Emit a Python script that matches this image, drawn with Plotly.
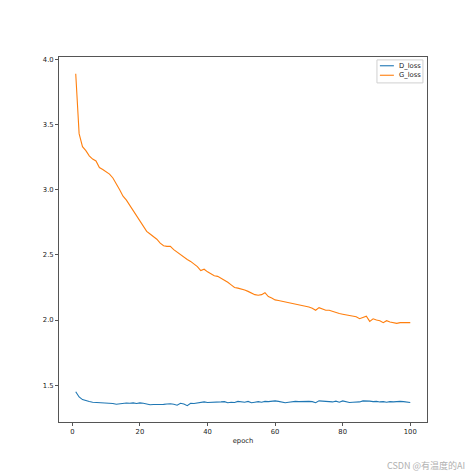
import plotly.graph_objects as go

epochs = list(range(1, 101))

d_loss = [1.45, 1.41, 1.39, 1.38, 1.375, 1.37, 1.368, 1.366, 1.365, 1.365,
          1.364, 1.36, 1.354, 1.358, 1.362, 1.364, 1.362, 1.365, 1.36, 1.365,
          1.362, 1.356, 1.35, 1.352, 1.351, 1.352, 1.353, 1.356, 1.358, 1.354,
          1.347, 1.362, 1.356, 1.343, 1.362, 1.36, 1.365, 1.368, 1.372, 1.368,
          1.368, 1.37, 1.37, 1.372, 1.374, 1.366, 1.37, 1.368, 1.376, 1.372,
          1.37, 1.376, 1.366, 1.37, 1.374, 1.37, 1.376, 1.374, 1.378, 1.38,
          1.376, 1.372, 1.366, 1.37, 1.374, 1.376, 1.374, 1.376, 1.375, 1.376,
          1.374, 1.366, 1.38, 1.378, 1.376, 1.378, 1.372, 1.378, 1.37, 1.38,
          1.372, 1.368, 1.37, 1.37, 1.372, 1.38, 1.38, 1.378, 1.374, 1.376,
          1.372, 1.374, 1.37, 1.374, 1.372, 1.376, 1.376, 1.374, 1.372, 1.367]

g_loss = [3.89, 3.43, 3.33, 3.30, 3.26, 3.235, 3.22, 3.17, 3.155, 3.14,
          3.12, 3.09, 3.05, 3.00, 2.95, 2.92, 2.88, 2.84, 2.80, 2.76,
          2.71, 2.68, 2.66, 2.64, 2.62, 2.59, 2.57, 2.565, 2.565, 2.54,
          2.52, 2.50, 2.485, 2.465, 2.45, 2.43, 2.41, 2.38, 2.39, 2.37,
          2.355, 2.34, 2.335, 2.32, 2.31, 2.29, 2.27, 2.25, 2.245, 2.24,
          2.23, 2.22, 2.205, 2.195, 2.19, 2.195, 2.21, 2.18, 2.17, 2.155,
          2.15, 2.145, 2.14, 2.13, 2.125, 2.12, 2.115, 2.11, 2.105, 2.10,
          2.09, 2.075, 2.095, 2.085, 2.075, 2.075, 2.065, 2.055, 2.05, 2.045,
          2.04, 2.04, 2.035, 2.025, 2.01, 2.02, 2.03, 1.99, 2.01, 2.00,
          1.995, 1.98, 1.995, 1.985, 1.98, 1.975, 1.98, 1.98, 1.98, 1.98]

series_names = ["D_loss", "G_loss"]
series_colors = ["#1f77b4", "#ff7f0e"]

x_ticks = [0, 20, 40, 60, 80, 100]
y_ticks = [1.5, 2.0, 2.5, 3.0, 3.5, 4.0]
y_tick_labels = ["1.5", "2.0", "2.5", "3.0", "3.5", "4.0"]

font_family = "DejaVu Sans"
fs = 6.8
txt_color = "#222222"

fig = go.Figure()
for name, ys, col in zip(series_names, [d_loss, g_loss], series_colors):
    fig.add_trace(go.Scatter(x=epochs, y=ys, mode="lines", name=name,
                             line=dict(color=col, width=1.1)))

axis_common = dict(showline=True, linecolor="#555555", linewidth=1, mirror=True,
                   showgrid=False, zeroline=False, ticks="outside", ticklen=3,
                   tickwidth=1, tickcolor="#555555",
                   tickfont=dict(family=font_family, size=fs, color=txt_color))

fig.update_layout(
    width=466, height=466,
    margin=dict(l=51, r=47, t=49, b=52),
    paper_bgcolor="white", plot_bgcolor="white",
    font=dict(family=font_family, size=fs, color=txt_color),
    xaxis=dict(range=[-3.95, 104.95], tickvals=x_ticks,
               title=dict(text="epoch", font=dict(family=font_family, size=fs, color=txt_color), standoff=3),
               **axis_common),
    yaxis=dict(range=[1.218, 4.018], tickvals=y_ticks, ticktext=y_tick_labels,
               **axis_common),
    showlegend=False,
)

# legend box (drawn like matplotlib's upper-right legend)
fig.add_shape(type="rect", xref="paper", yref="paper",
              x0=0.864, x1=0.989, y0=0.929, y1=0.992,
              line=dict(color="#d0d0d0", width=1), fillcolor="rgba(255,255,255,0.8)")
legend_rows_y = [0.976, 0.950]
for name, col, ly in zip(series_names, series_colors, legend_rows_y):
    fig.add_shape(type="line", xref="paper", yref="paper",
                  x0=0.872, x1=0.910, y0=ly, y1=ly,
                  line=dict(color=col, width=1.1))
    fig.add_annotation(text=name, xref="paper", yref="paper", x=0.918, y=ly,
                       xanchor="left", yanchor="middle", showarrow=False,
                       font=dict(family=font_family, size=fs, color=txt_color))

fig.add_annotation(text="CSDN @有温度的AI", xref="paper", yref="paper",
                   x=1.108, y=-0.118, xanchor="right", yanchor="middle", showarrow=False,
                   font=dict(family="Noto Sans CJK SC", size=9, color="#b0b0b0"))

fig.write_html("out.html")
